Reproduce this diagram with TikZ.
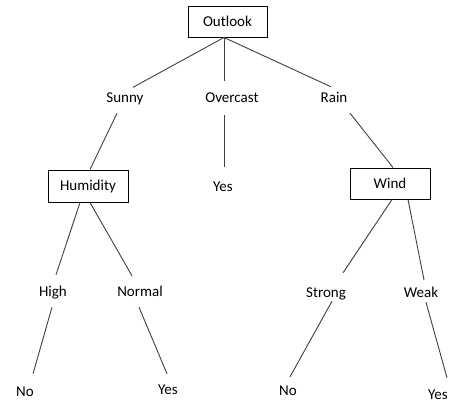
\documentclass[tikz,border=0pt]{standalone}
\usepackage{fontspec}
\setmainfont{Carlito}
\usetikzlibrary{calc}

\begin{document}
\begin{tikzpicture}[x=1pt,y=-1pt,
  every node/.style={font=\fontsize{15pt}{18pt}\selectfont},
  box/.style={draw,line width=1pt,minimum width=80pt,minimum height=31pt,inner sep=0pt},
  lbl/.style={inner sep=2pt,text height=11pt,text depth=2pt},
  edge/.style={draw=black!75,line width=0.9pt}]
  \useasboundingbox[fill=white] (0,0) rectangle (474,402);
  % tests
  \node[box,minimum width=79pt] (outlook) at (227.5,21.5) {Outlook};
  \node[box,minimum height=32pt] (humidity) at (88,186) {Humidity};
  \node[box] (wind) at (390,183.5) {Wind};
  % branch values
  \node[lbl] (sunny) at (125,98) {Sunny};
  \node[lbl] (overcast) at (232,98) {Overcast};
  \node[lbl] (rain) at (334,98) {Rain};
  \node[lbl] (high) at (53,292) {High};
  \node[lbl] (normal) at (140,292) {Normal};
  \node[lbl] (strong) at (326,293) {Strong};
  \node[lbl] (weak) at (421,293) {Weak};
  % leaves
  \node[lbl] (yesA) at (223,187) {Yes};
  \node[lbl] (noB) at (25,392) {No};
  \node[lbl] (yesB) at (168,390) {Yes};
  \node[lbl] (noC) at (288,391) {No};
  \node[lbl] (yesC) at (438,395) {Yes};
  % edges
  \draw[edge] ($(outlook.south)+(-3.5,0)$) -- ($(sunny.north)+(8,-2)$);
  \draw[edge] ($(outlook.south)+(-3.5,0)$) -- ($(overcast.north)+(-8,-8.5)$);
  \draw[edge] ($(outlook.south)+(-3.5,0)$) -- ($(rain.north)+(-3,-2.5)$);
  \draw[edge] ($(sunny.south)+(-8,6.5)$) -- ($(humidity.north)+(2,0)$);
  \draw[edge] ($(overcast.south)+(-8,8.5)$) -- ($(yesA.north)+(1,-11.5)$);
  \draw[edge] ($(rain.south)+(16,6.5)$) -- ($(wind.north)+(3,0)$);
  \draw[edge] ($(humidity.south)+(-8,0)$) -- ($(high.north)+(3,-8.5)$);
  \draw[edge] ($(humidity.south)+(2,0)$) -- ($(normal.north)+(-8,-7.5)$);
  \draw[edge] ($(wind.south)+(2,0)$) -- ($(strong.north)+(17,-11.5)$);
  \draw[edge] ($(wind.south)+(18,0)$) -- ($(weak.north)+(3,-4.5)$);
  \draw[edge] ($(high.south)+(-1,6.5)$) -- ($(noB.north)+(8,-9.5)$);
  \draw[edge] ($(normal.south)+(-1,6.5)$) -- ($(yesB.north)+(-1,-7.5)$);
  \draw[edge] ($(strong.south)+(6,-0.5)$) -- ($(noC.north)+(2,-5.5)$);
  \draw[edge] ($(weak.south)+(5,0.5)$) -- ($(yesC.north)+(9,-8.5)$);
\end{tikzpicture}
\end{document}
